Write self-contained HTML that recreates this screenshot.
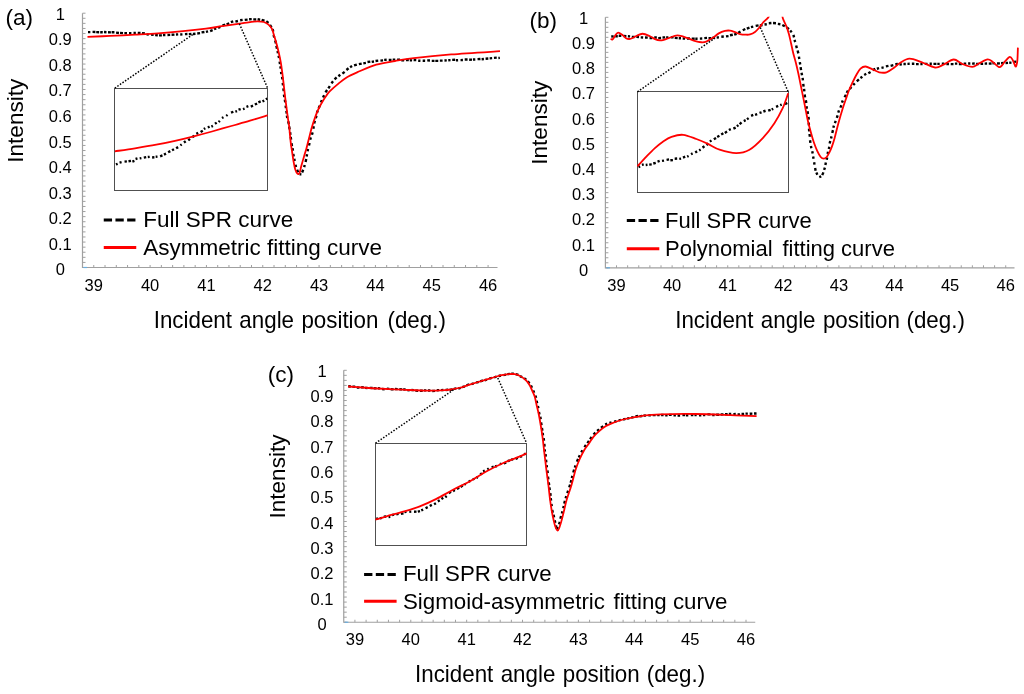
<!DOCTYPE html>
<html><head><meta charset="utf-8"><title>SPR fitting curves</title>
<style>
html,body{margin:0;padding:0;background:#fff;}
body{width:1024px;height:694px;overflow:hidden;}
svg{display:block;}
text{font-family:'Liberation Sans', Arial, sans-serif;fill:#000;}
.tk{font-size:16.5px;}
.lb{font-size:22.5px;}
.ti{font-size:22.6px;}
.xt{font-size:23px;word-spacing:1.2px;}
.lg{font-size:22.5px;}
.bk{fill:none;stroke:#000;stroke-width:2.4;}
.bki{fill:none;stroke:#000;stroke-width:2.4;}
.rd{fill:none;stroke:#ff0000;stroke-width:1.8;stroke-linejoin:round;}
.cn{fill:none;stroke:#000;stroke-width:1.5;stroke-dasharray:1.5 1.6;}
</style></head>
<body>
<svg width="1024" height="694" viewBox="0 0 1024 694">
<rect width="1024" height="694" fill="#fff"/>
<clipPath id="clipa"><rect x="82.50" y="12.70" width="421.00" height="254.80"/></clipPath>
<path d="M82.50,13.20h3 M82.50,18.29h3 M82.50,23.37h3 M82.50,28.46h3 M82.50,33.54h3 M82.50,38.63h3 M82.50,43.72h3 M82.50,48.80h3 M82.50,53.89h3 M82.50,58.97h3 M82.50,64.06h3 M82.50,69.15h3 M82.50,74.23h3 M82.50,79.32h3 M82.50,84.40h3 M82.50,89.49h3 M82.50,94.58h3 M82.50,99.66h3 M82.50,104.75h3 M82.50,109.83h3 M82.50,114.92h3 M82.50,120.01h3 M82.50,125.09h3 M82.50,130.18h3 M82.50,135.26h3 M82.50,140.35h3 M82.50,145.44h3 M82.50,150.52h3 M82.50,155.61h3 M82.50,160.69h3 M82.50,165.78h3 M82.50,170.87h3 M82.50,175.95h3 M82.50,181.04h3 M82.50,186.12h3 M82.50,191.21h3 M82.50,196.30h3 M82.50,201.38h3 M82.50,206.47h3 M82.50,211.55h3 M82.50,216.64h3 M82.50,221.73h3 M82.50,226.81h3 M82.50,231.90h3 M82.50,236.98h3 M82.50,242.07h3 M82.50,247.16h3 M82.50,252.24h3 M82.50,257.33h3 M82.50,262.41h3 M82.50,267.50h3 M93.77,267.50v-2.5 M105.03,267.50v-2.5 M116.30,267.50v-2.5 M127.56,267.50v-2.5 M138.83,267.50v-2.5 M150.10,267.50v-2.5 M161.36,267.50v-2.5 M172.63,267.50v-2.5 M183.89,267.50v-2.5 M195.16,267.50v-2.5 M206.43,267.50v-2.5 M217.69,267.50v-2.5 M228.96,267.50v-2.5 M240.22,267.50v-2.5 M251.49,267.50v-2.5 M262.76,267.50v-2.5 M274.02,267.50v-2.5 M285.29,267.50v-2.5 M296.55,267.50v-2.5 M307.82,267.50v-2.5 M319.09,267.50v-2.5 M330.35,267.50v-2.5 M341.62,267.50v-2.5 M352.88,267.50v-2.5 M364.15,267.50v-2.5 M375.42,267.50v-2.5 M386.68,267.50v-2.5 M397.95,267.50v-2.5 M409.21,267.50v-2.5 M420.48,267.50v-2.5 M431.75,267.50v-2.5 M443.01,267.50v-2.5 M454.28,267.50v-2.5 M465.54,267.50v-2.5 M476.81,267.50v-2.5 M488.08,267.50v-2.5" stroke="#a0a0a0" stroke-width="1" fill="none"/>
<path d="M82.50,13.20 V267.50 H497.50" stroke="#a0a0a0" stroke-width="1.2" fill="none"/>
<path d="M83.50,267.50 h3.6" stroke="#6aaee0" stroke-width="1.2"/>
<text x="60.30" y="275.40" class="tk" text-anchor="middle">0</text>
<text x="60.30" y="249.82" class="tk" text-anchor="middle">0.1</text>
<text x="60.30" y="224.24" class="tk" text-anchor="middle">0.2</text>
<text x="60.30" y="198.66" class="tk" text-anchor="middle">0.3</text>
<text x="60.30" y="173.08" class="tk" text-anchor="middle">0.4</text>
<text x="60.30" y="147.50" class="tk" text-anchor="middle">0.5</text>
<text x="60.30" y="121.92" class="tk" text-anchor="middle">0.6</text>
<text x="60.30" y="96.34" class="tk" text-anchor="middle">0.7</text>
<text x="60.30" y="70.76" class="tk" text-anchor="middle">0.8</text>
<text x="60.30" y="45.18" class="tk" text-anchor="middle">0.9</text>
<text x="60.30" y="19.60" class="tk" text-anchor="middle">1</text>
<text x="93.77" y="291.10" class="tk" text-anchor="middle">39</text>
<text x="150.10" y="291.10" class="tk" text-anchor="middle">40</text>
<text x="206.43" y="291.10" class="tk" text-anchor="middle">41</text>
<text x="262.76" y="291.10" class="tk" text-anchor="middle">42</text>
<text x="319.09" y="291.10" class="tk" text-anchor="middle">43</text>
<text x="375.42" y="291.10" class="tk" text-anchor="middle">44</text>
<text x="431.75" y="291.10" class="tk" text-anchor="middle">45</text>
<text x="488.08" y="291.10" class="tk" text-anchor="middle">46</text>
<text x="5.50" y="25.00" class="lb">(a)</text>
<text transform="translate(23.00,120.70) rotate(-90)" class="ti" text-anchor="middle">Intensity</text>
<text transform="translate(153.70,327.80) scale(0.972,1)" class="xt">Incident angle position <tspan dx="1.7">(deg.)</tspan></text>
<g clip-path="url(#clipa)">
<path d="M88.00,32.14L90.35,32.12M92.55,31.92L95.38,31.93M96.22,32.15L99.13,32.26M100.21,32.19L102.76,32.32M104.03,32.06L106.48,32.19M108.03,32.25L110.91,32.33M111.63,32.24L114.43,32.24M116.08,32.68L118.98,33.03M120.03,32.89L123.01,33.11M124.37,33.16L126.98,33.25M129.02,33.22L131.41,33.18M133.52,33.03L135.84,32.98M137.74,32.99L140.54,33.05M141.97,33.16L144.85,33.56M146.57,34.34L148.79,34.62M151.02,34.58L153.65,34.75M155.13,35.12L157.82,35.20M158.98,35.39L161.89,35.39M162.96,34.99L165.39,34.95M167.46,34.95L170.21,34.86M171.56,34.78L174.46,34.63M175.95,34.56L178.18,34.41M180.23,34.52L182.45,34.38M184.94,34.14L187.44,34.05M188.81,34.11L191.41,33.99M192.93,33.93L195.47,33.70M197.24,33.44L200.04,33.11M201.55,32.43L204.43,32.05M205.92,31.85L208.06,31.35M210.12,31.14L212.64,30.19M214.08,29.18L216.16,28.33M218.16,27.79L220.31,26.93M222.49,25.60L225.13,24.50M226.63,24.47L229.27,23.43M230.84,22.23L233.24,21.45M235.40,21.63L237.94,21.01M240.16,20.29L242.64,19.89M244.72,19.84L247.59,19.57M249.09,19.24L251.71,19.11M253.27,19.38L256.23,19.49M257.58,19.28L260.13,19.79M261.65,19.94L264.48,20.76M266.28,21.32L268.49,22.93M269.97,24.98L271.53,27.32M272.54,29.19L273.30,31.61M273.59,35.07L274.22,37.56M275.16,40.49L275.95,43.38M276.37,45.83L276.98,48.75M277.52,50.97L278.00,53.34M278.55,55.71L279.05,58.05M279.59,61.68L279.99,64.11M280.40,66.24L280.71,68.64M281.04,71.81L281.38,74.15M282.09,76.95L282.40,79.30M282.75,82.97L283.01,85.34M283.36,88.45L283.73,91.16M283.92,94.48L284.29,97.07M284.83,99.64L285.21,102.25M285.62,105.59L285.95,108.10M286.38,110.72L286.75,113.53M286.87,115.64L287.25,117.97M288.16,121.32L288.87,124.14M289.15,126.47L289.66,129.38M290.07,132.25L290.43,134.87M290.75,136.96L291.10,139.66M291.52,143.21L291.96,146.16M292.52,148.12L292.95,150.77M293.26,153.84L293.73,156.52M294.25,158.65L294.73,160.99M295.48,164.82L296.04,167.09M297.07,169.83L298.12,172.26M299.50,174.33L301.38,174.31M302.12,172.45L303.17,169.73M304.15,167.16L304.72,164.93M305.59,161.90L306.20,159.10M306.58,156.56L307.08,154.24M307.58,151.24L308.02,149.03M308.97,145.57L309.55,142.93M310.18,139.70L310.82,137.42M311.95,134.72L312.63,132.39M313.30,128.80L313.79,126.30M314.22,123.42L314.84,120.79M315.82,118.20L316.44,115.75M316.95,112.95L317.66,110.62M318.69,108.28L319.75,105.60M320.92,102.48L321.87,100.14M323.06,97.54L324.13,95.29M325.47,92.42L327.11,90.00M328.34,88.42L329.84,86.06M331.50,83.37L333.00,81.27M334.55,79.28L336.61,77.38M338.40,76.24L340.25,74.79M342.41,73.59L344.62,71.84M346.40,69.95L348.53,68.33M350.08,67.26L352.06,66.05M354.05,65.43L356.82,64.58M358.88,64.19L361.68,63.57M363.31,63.36L365.90,62.94M367.49,62.05L370.31,61.58M371.69,61.89L374.00,61.52M375.52,61.03L378.25,60.66M380.43,60.60L383.06,60.38M384.20,59.87L386.66,59.75M388.72,59.96L391.51,59.91M392.70,59.63L395.24,59.62M397.09,59.59L400.07,59.61M401.33,60.21L404.15,60.29M406.00,60.00L408.81,60.10M409.83,60.29L412.09,60.36M413.60,59.94L416.26,60.01M418.20,60.76L420.42,60.82M422.67,60.73L425.15,60.79M427.23,60.39L429.97,60.43M431.74,60.87L434.48,60.89M435.32,60.89L438.27,60.90M439.86,60.65L442.60,60.61M444.45,60.46L446.77,60.37M448.27,60.30L450.54,60.17M452.20,59.88L455.13,59.71M455.89,60.31L458.10,60.19M460.53,60.08L462.93,60.02M464.71,59.57L467.59,59.52M469.17,59.68L472.03,59.61M472.97,59.57L475.31,59.46M477.54,59.16L480.43,58.97M481.62,59.21L483.92,59.04M485.58,58.76L488.31,58.54M489.66,58.34L492.12,58.15M493.96,57.89L496.74,57.65M498.37,58.01L499.85,57.88" class="bk"/>
<path d="M87.50,36.90 C91.25,36.73 102.08,36.27 110.00,35.90 C117.92,35.53 127.00,35.12 135.00,34.70 C143.00,34.28 150.00,33.98 158.00,33.40 C166.00,32.82 175.00,32.00 183.00,31.20 C191.00,30.40 199.50,29.43 206.00,28.60 C212.50,27.77 216.65,27.00 222.00,26.20 C227.35,25.40 233.43,24.48 238.10,23.80 C242.77,23.12 246.80,22.50 250.00,22.10 C253.20,21.70 255.02,21.42 257.30,21.40 C259.58,21.38 261.83,21.47 263.70,22.00 C265.57,22.53 267.12,23.45 268.50,24.60 C269.88,25.75 271.05,27.00 272.00,28.90 C272.95,30.80 273.40,33.37 274.20,36.00 C275.00,38.63 276.02,41.82 276.80,44.70 C277.58,47.58 278.25,50.42 278.90,53.30 C279.55,56.18 280.18,59.12 280.70,62.00 C281.22,64.88 281.60,67.72 282.00,70.60 C282.40,73.48 282.75,76.40 283.10,79.30 C283.45,82.20 283.78,85.22 284.10,88.00 C284.42,90.78 284.67,93.25 285.00,96.00 C285.33,98.75 285.62,100.83 286.10,104.50 C286.58,108.17 287.38,114.32 287.90,118.00 C288.42,121.68 288.85,123.72 289.20,126.60 C289.55,129.48 289.72,132.42 290.00,135.30 C290.28,138.18 290.53,141.03 290.90,143.90 C291.27,146.77 291.77,149.62 292.20,152.50 C292.63,155.38 293.00,158.40 293.50,161.20 C294.00,164.00 294.52,167.18 295.20,169.30 C295.88,171.42 296.87,173.35 297.60,173.90 C298.33,174.45 298.98,173.92 299.60,172.60 C300.22,171.28 300.58,168.62 301.30,166.00 C302.02,163.38 303.03,159.87 303.90,156.90 C304.77,153.93 305.70,151.10 306.50,148.20 C307.30,145.30 307.82,142.95 308.70,139.50 C309.58,136.05 310.72,131.23 311.80,127.50 C312.88,123.77 314.05,120.27 315.20,117.10 C316.35,113.93 317.40,111.23 318.70,108.50 C320.00,105.77 321.70,102.87 323.00,100.70 C324.30,98.53 325.35,97.08 326.50,95.50 C327.65,93.92 327.86,93.22 329.90,91.20 C331.94,89.18 335.90,85.73 338.75,83.40 C341.60,81.07 343.88,79.07 347.00,77.20 C350.12,75.33 352.62,74.28 357.50,72.20 C362.38,70.12 370.00,66.57 376.25,64.70 C382.50,62.83 388.75,62.10 395.00,61.00 C401.25,59.90 404.38,59.20 413.75,58.10 C423.12,57.00 436.88,55.55 451.25,54.40 C465.62,53.25 491.88,51.73 500.00,51.20" class="rd"/>
</g>
<rect x="114.80" y="88.10" width="152.80" height="102.50" fill="white" stroke="#505050" stroke-width="1" shape-rendering="crispEdges"/>
<path d="M115.91,164.41L117.65,163.80M119.56,162.64L121.58,162.12M124.53,161.66L126.88,161.42M128.51,161.28L130.99,160.92M132.36,161.52L134.43,160.80M135.55,159.00L137.44,158.45M139.67,158.36L141.40,158.06M143.80,157.58L146.21,157.12M147.80,157.01L149.68,156.82M152.10,157.44L154.42,157.25M155.68,156.74L157.50,156.59M160.12,156.39L162.46,155.49M163.95,154.65L166.02,153.69M168.12,152.20L170.32,151.06M172.03,150.26L173.97,149.19M176.13,148.30L178.15,147.12M180.34,145.30L181.70,144.43M183.92,142.58L185.71,141.26M188.27,140.30L189.99,138.83M192.33,137.12L194.43,135.83M196.37,133.84L198.15,132.91M200.58,131.99L202.80,130.68M203.82,129.09L205.31,128.20M207.78,127.48L209.59,126.62M211.38,126.63L212.91,125.91M214.94,123.84L216.68,122.61M218.65,122.01L219.85,120.81M221.93,118.02L223.48,117.21M226.20,115.87L227.55,114.89M231.02,112.68L233.35,111.75M235.35,111.67L237.04,111.13M238.51,109.72L240.67,109.03M242.95,109.14L244.60,108.58M246.44,106.80L248.33,106.15M250.76,106.61L253.03,105.74M254.82,104.51L257.10,103.53M258.37,102.31L260.67,101.35M262.45,101.35L264.26,100.55M265.83,99.20L267.22,98.51" class="bki"/>
<path d="M114.90,151.30 C118.25,150.80 128.10,149.40 135.00,148.30 C141.90,147.20 149.63,145.95 156.30,144.70 C162.97,143.45 168.75,142.20 175.00,140.80 C181.25,139.40 187.63,137.85 193.80,136.30 C199.97,134.75 205.75,133.22 212.00,131.50 C218.25,129.78 224.97,127.80 231.30,126.00 C237.63,124.20 243.95,122.48 250.00,120.70 C256.05,118.92 264.67,116.20 267.60,115.30" class="rd"/>
<path d="M114.80,88.10 L193.30,34.20" class="cn"/>
<path d="M239.40,23.80 L267.60,88.10" class="cn"/>
<path d="M103.75,220.00 h32.5" stroke="#000" stroke-width="3" stroke-dasharray="8.3 3.4"/>
<path d="M103.75,247.50 h32.5" stroke="#ff0000" stroke-width="3"/>
<text x="143.30" y="226.90" class="lg" style="font-size:22.5px">Full SPR curve</text>
<text x="143.30" y="255.00" class="lg" style="font-size:22.5px">Asymmetric fitting curve</text>
<clipPath id="clipb"><rect x="605.40" y="16.80" width="415.10" height="251.00"/></clipPath>
<path d="M605.40,17.30h3 M605.40,22.31h3 M605.40,27.32h3 M605.40,32.33h3 M605.40,37.34h3 M605.40,42.35h3 M605.40,47.36h3 M605.40,52.37h3 M605.40,57.38h3 M605.40,62.39h3 M605.40,67.40h3 M605.40,72.41h3 M605.40,77.42h3 M605.40,82.43h3 M605.40,87.44h3 M605.40,92.45h3 M605.40,97.46h3 M605.40,102.47h3 M605.40,107.48h3 M605.40,112.49h3 M605.40,117.50h3 M605.40,122.51h3 M605.40,127.52h3 M605.40,132.53h3 M605.40,137.54h3 M605.40,142.55h3 M605.40,147.56h3 M605.40,152.57h3 M605.40,157.58h3 M605.40,162.59h3 M605.40,167.60h3 M605.40,172.61h3 M605.40,177.62h3 M605.40,182.63h3 M605.40,187.64h3 M605.40,192.65h3 M605.40,197.66h3 M605.40,202.67h3 M605.40,207.68h3 M605.40,212.69h3 M605.40,217.70h3 M605.40,222.71h3 M605.40,227.72h3 M605.40,232.73h3 M605.40,237.74h3 M605.40,242.75h3 M605.40,247.76h3 M605.40,252.77h3 M605.40,257.78h3 M605.40,262.79h3 M605.40,267.80h3 M616.52,267.80v-2.5 M627.64,267.80v-2.5 M638.76,267.80v-2.5 M649.88,267.80v-2.5 M661.00,267.80v-2.5 M672.12,267.80v-2.5 M683.24,267.80v-2.5 M694.36,267.80v-2.5 M705.48,267.80v-2.5 M716.60,267.80v-2.5 M727.72,267.80v-2.5 M738.84,267.80v-2.5 M749.96,267.80v-2.5 M761.08,267.80v-2.5 M772.20,267.80v-2.5 M783.32,267.80v-2.5 M794.44,267.80v-2.5 M805.56,267.80v-2.5 M816.68,267.80v-2.5 M827.80,267.80v-2.5 M838.92,267.80v-2.5 M850.04,267.80v-2.5 M861.16,267.80v-2.5 M872.28,267.80v-2.5 M883.40,267.80v-2.5 M894.52,267.80v-2.5 M905.64,267.80v-2.5 M916.76,267.80v-2.5 M927.88,267.80v-2.5 M939.00,267.80v-2.5 M950.12,267.80v-2.5 M961.24,267.80v-2.5 M972.36,267.80v-2.5 M983.48,267.80v-2.5 M994.60,267.80v-2.5 M1005.72,267.80v-2.5" stroke="#a0a0a0" stroke-width="1" fill="none"/>
<path d="M605.40,17.30 V267.80 H1014.50" stroke="#a0a0a0" stroke-width="1.2" fill="none"/>
<path d="M606.40,267.80 h3.6" stroke="#6aaee0" stroke-width="1.2"/>
<text x="583.50" y="275.70" class="tk" text-anchor="middle">0</text>
<text x="583.50" y="250.50" class="tk" text-anchor="middle">0.1</text>
<text x="583.50" y="225.30" class="tk" text-anchor="middle">0.2</text>
<text x="583.50" y="200.10" class="tk" text-anchor="middle">0.3</text>
<text x="583.50" y="174.90" class="tk" text-anchor="middle">0.4</text>
<text x="583.50" y="149.70" class="tk" text-anchor="middle">0.5</text>
<text x="583.50" y="124.50" class="tk" text-anchor="middle">0.6</text>
<text x="583.50" y="99.30" class="tk" text-anchor="middle">0.7</text>
<text x="583.50" y="74.10" class="tk" text-anchor="middle">0.8</text>
<text x="583.50" y="48.90" class="tk" text-anchor="middle">0.9</text>
<text x="583.50" y="23.70" class="tk" text-anchor="middle">1</text>
<text x="616.52" y="291.40" class="tk" text-anchor="middle">39</text>
<text x="672.12" y="291.40" class="tk" text-anchor="middle">40</text>
<text x="727.72" y="291.40" class="tk" text-anchor="middle">41</text>
<text x="783.32" y="291.40" class="tk" text-anchor="middle">42</text>
<text x="838.92" y="291.40" class="tk" text-anchor="middle">43</text>
<text x="894.52" y="291.40" class="tk" text-anchor="middle">44</text>
<text x="950.12" y="291.40" class="tk" text-anchor="middle">45</text>
<text x="1005.72" y="291.40" class="tk" text-anchor="middle">46</text>
<text x="529.50" y="28.20" class="lb">(b)</text>
<text transform="translate(546.80,122.70) rotate(-90)" class="ti" text-anchor="middle">Intensity</text>
<text transform="translate(675.20,328.00) scale(0.972,1)" class="xt">Incident angle position <tspan dx="-0.9">(deg.)</tspan></text>
<g clip-path="url(#clipb)">
<path d="M611.24,36.50L613.72,36.37M615.19,36.23L617.77,36.18M618.72,35.76L621.32,35.82M623.63,36.02L626.39,36.14M627.91,36.24L630.11,36.36M631.79,36.85L634.58,37.07M636.37,36.85L638.99,37.09M640.73,37.34L643.14,37.50M644.99,37.50L647.75,37.59M649.55,37.96L652.37,38.00M654.22,37.49L656.82,37.49M658.24,38.08L661.09,38.01M662.52,37.49L665.14,37.42M666.14,37.53L668.39,37.53M670.84,37.20L673.59,37.33M674.70,37.91L677.67,38.08M678.76,38.18L680.99,38.28M682.69,38.45L685.05,38.54M686.97,38.45L689.88,38.54M691.71,38.74L694.69,38.82M695.31,38.77L697.58,38.82M699.86,38.59L702.24,38.50M704.30,38.14L707.02,37.89M708.53,38.32L711.24,38.22M712.20,37.99L715.11,37.60M716.66,37.58L718.88,37.27M721.31,36.71L723.79,36.47M725.99,36.40L728.55,36.09M730.00,35.27L732.79,34.70M734.16,34.69L736.61,33.79M738.19,32.75L740.49,31.60M742.76,30.28L745.29,28.97M746.83,28.64L749.48,27.62M750.98,27.19L753.24,26.65M755.67,25.93L758.57,25.34M759.93,25.54L762.50,25.01M764.49,24.56L766.79,24.20M768.80,23.25L771.41,23.02M773.03,23.07L775.98,23.22M777.86,23.83L780.40,24.20M782.32,24.99L784.83,26.30M786.75,27.28L788.91,29.21M790.18,30.49L791.73,32.21M793.43,34.91L794.04,37.34M794.50,39.86L795.22,42.00M796.16,45.51L796.82,48.12M797.62,50.47L798.35,53.33M798.90,56.66L799.29,58.98M799.82,62.07L800.20,64.49M800.63,67.18L801.06,70.12M801.52,72.80L802.02,75.33M802.60,77.81L802.97,80.41M803.25,83.93L803.59,86.64M804.06,88.85L804.37,91.34M804.64,94.50L805.06,97.35M805.82,100.32L806.31,103.08M806.48,106.27L806.85,108.70M807.51,111.31L807.95,113.96M808.49,116.88L808.78,119.60M808.74,122.60L808.92,125.34M809.03,128.67L809.19,131.35M809.58,134.01L809.80,136.76M810.03,140.21L810.41,142.87M810.93,145.96L811.34,148.16M812.23,151.24L812.71,153.54M813.13,156.58L813.58,158.85M814.13,162.28L814.48,164.65M815.10,168.05L815.63,170.67M816.37,172.59L817.36,174.78M819.25,177.14L821.25,176.42M822.26,175.11L823.42,172.36M824.13,169.92L824.89,167.61M825.37,165.02L825.88,162.45M826.71,159.74L827.15,157.53M827.62,153.89L828.04,151.70M828.83,148.99L829.28,146.67M829.66,143.53L830.24,141.04M831.04,138.53L831.56,136.35M832.28,132.97L832.95,130.11M833.33,127.79L833.90,125.61M834.89,123.11L835.70,120.94M836.83,117.83L837.63,115.38M838.25,112.59L838.99,110.41M840.37,107.61L841.40,105.22M842.03,102.63L842.80,100.48M844.61,97.22L845.92,94.73M846.67,92.80L848.01,90.58M849.74,88.94L851.42,86.97M853.22,85.01L854.81,83.35M856.81,81.33L858.91,79.36M860.42,78.02L862.34,76.65M864.21,74.95L866.21,73.82M868.34,73.33L870.57,72.02M872.72,70.09L875.28,68.85M876.86,68.73L879.09,68.15M881.46,67.86L883.65,67.38M885.87,66.40L888.47,65.89M890.61,65.89L893.34,65.18M895.32,64.29L897.90,63.98M899.53,64.48L901.86,64.41M903.46,63.96L905.79,63.94M907.45,63.83L909.68,63.80M911.85,63.79L914.34,63.76M916.00,64.11L918.68,64.09M920.36,64.10L922.59,64.08M924.82,63.86L927.53,63.84M929.63,63.79L931.83,63.78M933.45,63.84L936.41,63.83M937.32,63.88L939.68,63.88M941.81,63.77L944.29,63.78M946.36,64.09L948.95,64.10M950.73,64.10L953.50,64.11M954.92,63.63L957.28,63.63M958.85,64.04L961.84,64.04M963.71,63.66L966.21,63.65M968.12,63.46L970.33,63.43M972.13,63.61L974.71,63.57M976.10,64.00L978.71,63.94M980.49,63.84L983.12,63.77M984.66,63.63L987.09,63.57M988.76,63.63L991.56,63.55M992.42,63.19L994.90,63.12M997.01,63.50L999.95,63.40M1001.08,63.11L1003.69,63.00M1005.53,63.05L1008.04,62.90M1009.24,62.80L1011.50,62.62M1013.59,61.90L1016.33,61.63" class="bk"/>
<path d="M610.60,38.80 C610.92,38.92 611.73,40.03 612.50,39.50 C613.27,38.97 614.27,36.75 615.20,35.60 C616.13,34.45 616.88,32.70 618.10,32.60 C619.32,32.50 621.18,34.07 622.50,35.00 C623.82,35.93 624.85,37.53 626.00,38.20 C627.15,38.87 628.23,39.07 629.40,39.00 C630.57,38.93 631.86,38.30 633.00,37.80 C634.14,37.30 634.67,36.67 636.25,36.00 C637.83,35.33 640.21,33.71 642.50,33.75 C644.79,33.79 647.92,35.34 650.00,36.25 C652.08,37.16 653.33,38.51 655.00,39.20 C656.67,39.89 658.42,40.33 660.00,40.40 C661.58,40.47 663.04,39.98 664.50,39.60 C665.96,39.22 666.58,38.80 668.75,38.10 C670.92,37.40 674.38,35.40 677.50,35.40 C680.62,35.40 684.67,37.20 687.50,38.10 C690.33,39.00 692.21,40.11 694.50,40.80 C696.79,41.49 699.29,42.12 701.25,42.25 C703.21,42.38 704.38,42.29 706.25,41.60 C708.12,40.91 710.42,39.47 712.50,38.10 C714.58,36.73 716.67,34.60 718.75,33.40 C720.83,32.20 723.12,31.37 725.00,30.90 C726.88,30.43 728.33,30.38 730.00,30.60 C731.67,30.82 733.33,31.62 735.00,32.20 C736.67,32.78 738.23,33.68 740.00,34.10 C741.77,34.52 743.93,34.65 745.60,34.70 C747.27,34.75 748.43,34.87 750.00,34.40 C751.57,33.93 753.43,33.05 755.00,31.90 C756.57,30.75 758.05,29.07 759.40,27.50 C760.75,25.93 761.65,24.15 763.10,22.50 C764.55,20.85 766.62,19.52 768.10,17.60 C769.58,15.68 770.52,12.77 772.00,11.00 C773.48,9.23 775.42,6.83 777.00,7.00 C778.58,7.17 780.52,10.08 781.50,12.00 C782.48,13.92 782.10,16.13 782.90,18.50 C783.70,20.87 785.30,23.62 786.30,26.20 C787.30,28.78 788.10,31.12 788.90,34.00 C789.70,36.88 790.38,40.33 791.10,43.50 C791.82,46.67 792.42,49.83 793.20,53.00 C793.98,56.17 794.93,59.05 795.80,62.50 C796.67,65.95 797.65,70.28 798.40,73.70 C799.15,77.12 799.55,79.30 800.30,83.00 C801.05,86.70 802.03,91.58 802.90,95.90 C803.77,100.22 804.63,104.58 805.50,108.90 C806.37,113.22 807.15,117.68 808.10,121.80 C809.05,125.92 810.25,130.18 811.20,133.60 C812.15,137.02 812.80,139.42 813.80,142.30 C814.80,145.18 816.05,148.45 817.20,150.90 C818.35,153.35 819.62,155.70 820.70,157.00 C821.78,158.30 822.70,158.70 823.70,158.70 C824.70,158.70 825.77,158.02 826.70,157.00 C827.63,155.98 828.43,154.33 829.30,152.60 C830.17,150.87 831.03,148.95 831.90,146.60 C832.77,144.25 833.42,142.40 834.50,138.50 C835.58,134.60 837.03,128.20 838.40,123.20 C839.77,118.20 841.42,112.62 842.70,108.50 C843.98,104.38 845.03,101.58 846.10,98.50 C847.17,95.42 848.13,92.45 849.10,90.00 C850.07,87.55 850.72,86.27 851.90,83.80 C853.08,81.33 854.77,77.72 856.20,75.20 C857.63,72.68 858.95,70.15 860.50,68.70 C862.05,67.25 863.58,66.43 865.50,66.50 C867.42,66.57 869.72,68.13 872.00,69.10 C874.28,70.07 876.78,71.77 879.20,72.30 C881.62,72.83 884.08,73.02 886.50,72.30 C888.92,71.58 891.45,69.57 893.70,68.00 C895.95,66.43 897.37,64.47 900.00,62.90 C902.63,61.33 905.93,58.73 909.50,58.60 C913.07,58.47 917.15,60.62 921.40,62.10 C925.65,63.58 931.32,67.08 935.00,67.50 C938.68,67.92 940.38,65.93 943.50,64.60 C946.62,63.27 950.60,59.63 953.70,59.50 C956.80,59.37 959.00,62.58 962.10,63.80 C965.20,65.02 969.47,66.87 972.30,66.80 C975.13,66.73 976.55,64.63 979.10,63.40 C981.65,62.17 985.27,59.60 987.60,59.40 C989.93,59.20 991.08,60.90 993.10,62.20 C995.12,63.50 997.68,67.37 999.70,67.20 C1001.72,67.03 1003.52,62.92 1005.20,61.20 C1006.88,59.48 1008.53,57.07 1009.80,56.90 C1011.07,56.73 1011.88,58.65 1012.80,60.20 C1013.72,61.75 1014.70,65.32 1015.30,66.20 C1015.90,67.08 1016.05,66.50 1016.40,65.50 C1016.75,64.50 1017.15,63.18 1017.40,60.20 C1017.65,57.22 1017.82,49.70 1017.90,47.60" class="rd"/>
</g>
<rect x="637.50" y="91.80" width="150.70" height="100.60" fill="white" stroke="#505050" stroke-width="1" shape-rendering="crispEdges"/>
<path d="M638.54,167.03L640.17,166.45M641.90,164.87L643.71,164.38M645.71,164.96L647.50,164.77M649.20,164.67L651.71,164.42M653.27,163.51L655.75,162.78M657.53,161.68L659.65,160.94M662.00,160.91L664.02,160.57M666.57,159.86L669.07,159.42M670.36,160.31L672.93,160.08M674.69,158.72L677.17,158.55M679.27,158.88L681.08,158.58M682.98,157.60L685.17,156.67M687.15,156.67L688.62,155.98M691.02,154.19L692.61,153.36M695.18,152.45L697.11,151.36M699.18,150.42L700.61,149.56M702.50,147.62L704.46,146.36M706.49,144.95L708.32,143.51M709.91,141.67L711.43,140.39M713.84,139.31L716.05,137.99M717.18,136.94L719.40,135.74M721.20,134.45L723.36,133.22M724.81,132.92L727.04,131.59M728.87,130.03L730.77,129.14M733.37,128.70L735.67,127.57M736.87,126.26L738.40,125.10M739.68,124.26L741.49,122.46M743.78,121.05L745.65,120.17M746.96,119.32L748.65,118.12M751.10,115.82L753.22,114.90M755.08,114.89L757.19,114.19M759.50,112.94L761.55,112.29M763.36,111.50L765.56,110.75M768.19,110.67L770.63,109.82M771.64,109.45L773.28,108.82M776.05,106.83L778.20,105.90M780.18,105.22L781.71,104.58M784.98,104.11L787.29,102.99" class="bki"/>
<path d="M637.50,166.30 C639.02,164.65 643.70,159.43 646.60,156.40 C649.50,153.37 652.13,150.60 654.90,148.10 C657.67,145.60 660.43,143.28 663.20,141.40 C665.97,139.52 668.18,137.90 671.50,136.80 C674.82,135.70 678.95,134.43 683.10,134.80 C687.25,135.17 692.25,137.48 696.40,139.00 C700.55,140.52 704.13,142.12 708.00,143.90 C711.87,145.68 714.90,148.17 719.60,149.70 C724.30,151.23 731.22,153.10 736.20,153.10 C741.18,153.10 745.07,152.20 749.50,149.70 C753.93,147.20 758.65,142.52 762.80,138.10 C766.95,133.68 771.08,128.18 774.40,123.20 C777.72,118.22 780.40,113.18 782.70,108.20 C785.00,103.22 787.28,95.78 788.20,93.30" class="rd"/>
<path d="M637.50,91.80 L714.70,38.20" class="cn"/>
<path d="M760.30,27.50 L788.20,91.80" class="cn"/>
<path d="M626.80,220.50 h32.5" stroke="#000" stroke-width="3" stroke-dasharray="8.3 3.4"/>
<path d="M626.80,248.70 h32.5" stroke="#ff0000" stroke-width="3"/>
<text x="665.00" y="228.10" class="lg" style="font-size:22.0px">Full SPR curve</text>
<text x="665.00" y="255.50" class="lg" style="font-size:22.0px">Polynomial <tspan dx="3.7">fitting curve</tspan></text>
<clipPath id="clipc"><rect x="343.75" y="369.80" width="417.50" height="252.45"/></clipPath>
<path d="M343.75,370.30h3 M343.75,375.34h3 M343.75,380.38h3 M343.75,385.42h3 M343.75,390.46h3 M343.75,395.50h3 M343.75,400.53h3 M343.75,405.57h3 M343.75,410.61h3 M343.75,415.65h3 M343.75,420.69h3 M343.75,425.73h3 M343.75,430.77h3 M343.75,435.81h3 M343.75,440.85h3 M343.75,445.88h3 M343.75,450.92h3 M343.75,455.96h3 M343.75,461.00h3 M343.75,466.04h3 M343.75,471.08h3 M343.75,476.12h3 M343.75,481.16h3 M343.75,486.20h3 M343.75,491.24h3 M343.75,496.27h3 M343.75,501.31h3 M343.75,506.35h3 M343.75,511.39h3 M343.75,516.43h3 M343.75,521.47h3 M343.75,526.51h3 M343.75,531.55h3 M343.75,536.59h3 M343.75,541.63h3 M343.75,546.66h3 M343.75,551.70h3 M343.75,556.74h3 M343.75,561.78h3 M343.75,566.82h3 M343.75,571.86h3 M343.75,576.90h3 M343.75,581.94h3 M343.75,586.98h3 M343.75,592.02h3 M343.75,597.06h3 M343.75,602.09h3 M343.75,607.13h3 M343.75,612.17h3 M343.75,617.21h3 M343.75,622.25h3 M354.92,622.25v-2.5 M366.10,622.25v-2.5 M377.27,622.25v-2.5 M388.45,622.25v-2.5 M399.62,622.25v-2.5 M410.79,622.25v-2.5 M421.97,622.25v-2.5 M433.14,622.25v-2.5 M444.32,622.25v-2.5 M455.49,622.25v-2.5 M466.66,622.25v-2.5 M477.84,622.25v-2.5 M489.01,622.25v-2.5 M500.19,622.25v-2.5 M511.36,622.25v-2.5 M522.53,622.25v-2.5 M533.71,622.25v-2.5 M544.88,622.25v-2.5 M556.06,622.25v-2.5 M567.23,622.25v-2.5 M578.40,622.25v-2.5 M589.58,622.25v-2.5 M600.75,622.25v-2.5 M611.93,622.25v-2.5 M623.10,622.25v-2.5 M634.27,622.25v-2.5 M645.45,622.25v-2.5 M656.62,622.25v-2.5 M667.80,622.25v-2.5 M678.97,622.25v-2.5 M690.14,622.25v-2.5 M701.32,622.25v-2.5 M712.49,622.25v-2.5 M723.67,622.25v-2.5 M734.84,622.25v-2.5 M746.01,622.25v-2.5" stroke="#a0a0a0" stroke-width="1" fill="none"/>
<path d="M343.75,370.30 V622.25 H755.25" stroke="#a0a0a0" stroke-width="1.2" fill="none"/>
<path d="M344.75,622.25 h3.6" stroke="#6aaee0" stroke-width="1.2"/>
<text x="322.00" y="630.15" class="tk" text-anchor="middle">0</text>
<text x="322.00" y="604.80" class="tk" text-anchor="middle">0.1</text>
<text x="322.00" y="579.46" class="tk" text-anchor="middle">0.2</text>
<text x="322.00" y="554.11" class="tk" text-anchor="middle">0.3</text>
<text x="322.00" y="528.77" class="tk" text-anchor="middle">0.4</text>
<text x="322.00" y="503.42" class="tk" text-anchor="middle">0.5</text>
<text x="322.00" y="478.08" class="tk" text-anchor="middle">0.6</text>
<text x="322.00" y="452.73" class="tk" text-anchor="middle">0.7</text>
<text x="322.00" y="427.39" class="tk" text-anchor="middle">0.8</text>
<text x="322.00" y="402.04" class="tk" text-anchor="middle">0.9</text>
<text x="322.00" y="376.70" class="tk" text-anchor="middle">1</text>
<text x="354.92" y="645.15" class="tk" text-anchor="middle">39</text>
<text x="410.79" y="645.15" class="tk" text-anchor="middle">40</text>
<text x="466.66" y="645.15" class="tk" text-anchor="middle">41</text>
<text x="522.53" y="645.15" class="tk" text-anchor="middle">42</text>
<text x="578.40" y="645.15" class="tk" text-anchor="middle">43</text>
<text x="634.27" y="645.15" class="tk" text-anchor="middle">44</text>
<text x="690.14" y="645.15" class="tk" text-anchor="middle">45</text>
<text x="746.01" y="645.15" class="tk" text-anchor="middle">46</text>
<text x="267.80" y="381.50" class="lb">(c)</text>
<text transform="translate(285.10,476.50) rotate(-90)" class="ti" text-anchor="middle">Intensity</text>
<text transform="translate(415.00,681.90) scale(0.972,1)" class="xt">Incident angle position <tspan dx="-0.4">(deg.)</tspan></text>
<g clip-path="url(#clipc)">
<path d="M348.27,386.28L350.79,386.47M352.37,386.62L355.17,386.82M356.82,387.49L359.44,387.67M361.15,387.20L363.83,387.39M364.97,387.86L367.48,388.04M369.67,387.89L372.55,388.07M373.71,388.26L376.53,388.42M377.96,388.28L380.17,388.39M382.06,389.06L384.62,389.19M386.83,388.74L389.31,388.86M390.76,389.23L393.59,389.37M394.99,389.00L397.71,389.13M399.33,389.23L402.19,389.35M403.13,389.34L405.58,389.45M407.25,390.16L409.61,390.27M411.49,390.04L413.89,390.15M415.31,390.64L418.07,390.76M420.04,390.69L422.72,390.79M423.98,390.34L426.26,390.39M428.02,390.46L430.34,390.46M432.24,390.95L435.08,390.87M436.78,390.19L439.13,390.08M441.11,390.09L443.35,389.96M445.62,389.97L448.13,389.78M449.63,390.04L452.49,389.54M453.84,388.82L456.36,388.42M458.31,388.49L460.68,387.88M462.20,387.19L464.90,386.27M466.46,385.28L469.12,384.41M471.41,384.09L473.72,383.39M476.11,382.70L478.82,381.88M480.15,381.35L482.93,380.52M484.58,380.24L486.91,379.54M489.27,378.61L491.89,377.82M494.10,377.38L496.47,376.69M498.66,376.04L500.95,375.50M503.43,375.13L506.11,374.65M507.34,374.13L510.22,373.91M511.20,373.61L513.83,373.68M515.72,374.07L518.36,374.98M519.95,376.15L522.10,377.14M524.11,378.15L526.22,379.71M527.81,381.21L529.49,383.46M530.92,385.58L532.02,387.77M533.16,390.39L534.18,392.67M535.39,395.59L536.11,397.92M536.62,400.69L537.14,403.15M537.88,405.97L538.42,408.21M538.94,411.92L539.48,414.39M540.29,416.79L540.72,419.17M541.07,422.42L541.55,425.24M541.92,427.86L542.39,430.73M542.67,432.93L543.01,435.30M543.68,438.16L544.00,440.74M544.29,443.97L544.58,446.58M544.68,449.36L544.93,451.68M545.53,454.17L545.82,456.62M546.00,459.74L546.30,462.27M546.63,465.09L546.91,467.37M547.42,470.49L547.76,473.11M547.99,476.65L548.36,479.35M548.78,482.30L549.14,485.06M549.42,487.29L549.74,490.08M550.31,493.10L550.61,495.86M550.77,498.26L551.08,500.71M551.41,503.96L551.77,506.29M552.25,509.87L552.78,512.79M553.56,514.68L554.12,517.37M554.69,520.41L555.33,522.88M556.02,525.42L556.42,528.23M556.66,529.27L557.79,527.05M559.11,524.29L559.80,521.95M560.37,518.79L561.08,516.03M561.90,513.56L562.43,511.37M563.25,508.34L563.79,505.93M564.24,503.59L564.94,500.83M565.63,498.32L566.31,496.21M567.30,493.23L568.14,490.76M569.23,487.47L570.13,484.61M570.70,482.69L571.38,480.12M571.83,478.15L572.40,475.85M573.30,472.46L574.12,469.59M574.83,467.57L575.56,465.49M576.93,461.63L578.09,458.88M578.83,457.44L579.81,455.36M581.27,452.30L582.43,450.22M584.45,447.14L585.94,445.07M587.39,443.17L588.96,440.87M590.08,439.29L591.65,437.06M593.54,434.49L595.38,432.61M597.16,431.02L599.09,429.37M600.95,427.80L603.26,426.20M605.23,424.66L607.17,423.59M609.42,422.96L611.56,422.29M614.18,421.77L616.50,421.14M618.68,420.38L620.90,419.83M623.19,419.46L625.54,418.93M627.08,418.70L629.41,418.20M631.14,417.56L633.57,417.07M635.43,416.47L638.22,416.00M639.47,416.39L642.15,416.05M643.57,415.67L645.85,415.48M648.32,415.36L650.82,415.31M652.68,415.16L655.60,415.15M657.20,415.13L659.62,415.11M661.09,414.97L663.55,414.94M665.19,415.20L667.58,415.18M668.89,414.87L671.69,414.86M673.47,415.40L675.90,415.38M677.58,415.50L680.12,415.49M682.41,415.16L685.09,415.14M685.89,415.32L688.32,415.30M690.81,415.05L693.37,415.02M694.46,415.06L696.67,415.03M698.96,415.26L701.31,415.22M703.03,415.12L705.24,415.08M707.44,414.42L710.43,414.36M712.16,414.99L714.59,414.94M716.22,414.80L719.22,414.73M720.71,414.44L723.51,414.38M725.04,414.24L727.66,414.18M728.82,414.05L731.23,413.98M733.35,414.14L735.75,414.07M737.58,414.49L739.96,414.41M741.55,413.96L744.11,413.87M745.51,413.67L747.83,413.59M749.69,413.74L752.37,413.63M754.04,413.55L756.54,413.46" class="bk"/>
<path d="M348.10,386.50 C350.42,386.67 357.10,387.17 362.00,387.50 C366.90,387.83 370.75,388.13 377.50,388.50 C384.25,388.87 394.07,389.33 402.50,389.70 C410.93,390.07 420.81,390.65 428.10,390.70 C435.39,390.75 442.10,390.27 446.25,390.00 C450.40,389.73 450.71,389.48 453.00,389.10 C455.29,388.73 457.23,388.50 460.00,387.75 C462.77,387.00 465.23,385.96 469.60,384.60 C473.97,383.24 481.55,380.99 486.20,379.60 C490.85,378.21 494.62,377.03 497.50,376.25 C500.38,375.47 501.58,375.26 503.50,374.90 C505.42,374.54 507.10,374.22 509.00,374.10 C510.90,373.98 513.15,373.92 514.90,374.20 C516.65,374.48 518.03,375.10 519.50,375.80 C520.97,376.50 522.38,377.40 523.70,378.40 C525.02,379.40 526.33,380.53 527.40,381.80 C528.47,383.07 529.27,384.45 530.10,386.00 C530.93,387.55 531.63,389.33 532.40,391.10 C533.17,392.87 534.00,394.28 534.70,396.60 C535.40,398.92 535.90,401.93 536.60,405.00 C537.30,408.07 538.08,410.83 538.90,415.00 C539.72,419.17 540.83,425.83 541.50,430.00 C542.17,434.17 542.38,435.83 542.90,440.00 C543.42,444.17 544.02,450.00 544.60,455.00 C545.18,460.00 545.77,465.00 546.40,470.00 C547.03,475.00 547.78,480.00 548.40,485.00 C549.02,490.00 549.57,495.83 550.10,500.00 C550.63,504.17 551.02,506.67 551.60,510.00 C552.18,513.33 552.98,517.25 553.60,520.00 C554.22,522.75 554.63,524.73 555.30,526.50 C555.97,528.27 556.88,530.52 557.60,530.60 C558.32,530.68 558.92,528.77 559.60,527.00 C560.28,525.23 560.93,522.83 561.70,520.00 C562.47,517.17 563.38,513.33 564.20,510.00 C565.02,506.67 565.38,504.17 566.60,500.00 C567.82,495.83 570.02,490.00 571.50,485.00 C572.98,480.00 574.17,474.25 575.50,470.00 C576.83,465.75 578.08,462.75 579.50,459.50 C580.92,456.25 582.40,453.22 584.00,450.50 C585.60,447.78 587.50,445.50 589.10,443.20 C590.70,440.90 591.92,438.72 593.60,436.70 C595.28,434.68 597.27,432.78 599.20,431.10 C601.13,429.42 603.20,427.85 605.20,426.60 C607.20,425.35 607.87,424.87 611.20,423.60 C614.53,422.33 619.95,420.30 625.20,419.00 C630.45,417.70 636.85,416.58 642.70,415.80 C648.55,415.02 651.50,414.60 660.30,414.30 C669.10,414.00 683.78,413.87 695.50,414.00 C707.22,414.13 720.42,414.73 730.60,415.10 C740.78,415.47 752.27,416.02 756.60,416.20" class="rd"/>
</g>
<rect x="375.50" y="443.20" width="151.10" height="102.00" fill="white" stroke="#505050" stroke-width="1" shape-rendering="crispEdges"/>
<path d="M376.31,518.97L378.08,518.34M379.91,518.46L381.94,517.89M383.80,516.80L386.18,516.55M388.55,516.96L390.31,516.78M392.00,515.21L394.00,514.53M396.27,514.41L398.53,513.85M400.95,513.86L403.50,513.38M404.43,512.09L406.43,511.73M409.30,511.76L411.29,511.58M414.00,511.79L416.51,511.65M417.81,511.67L420.01,511.19M421.25,510.45L423.14,509.64M425.55,508.22L427.70,507.18M429.74,506.01L431.81,504.89M434.09,504.23L435.91,503.19M437.86,501.37L439.72,500.23M441.40,499.04L443.23,497.81M445.26,497.20L446.71,496.03M448.87,493.22L450.85,491.64M453.06,491.09L454.81,490.08M456.93,488.90L459.19,487.73M460.57,486.89L462.75,485.56M464.30,484.61L465.72,483.78M468.75,481.55L470.30,480.84M472.80,479.56L474.35,478.73M476.41,478.14L477.66,476.97M480.24,474.67L481.95,473.26M483.06,471.43L484.76,470.69M487.42,469.55L488.81,468.50M491.66,467.42L493.68,466.72M495.11,466.52L496.85,465.98M499.89,464.21L501.46,463.69M503.74,463.40L506.19,462.54M507.60,461.23L509.91,460.40M511.16,459.84L513.00,459.10M515.52,458.89L517.86,457.88M519.95,456.88L521.95,456.03M524.12,454.44L525.70,453.66" class="bki"/>
<path d="M375.50,519.70 C377.35,519.13 381.98,517.63 386.60,516.30 C391.22,514.97 397.67,513.35 403.20,511.70 C408.73,510.05 414.27,508.53 419.80,506.40 C425.33,504.27 430.87,501.67 436.40,498.90 C441.93,496.13 447.47,492.70 453.00,489.80 C458.53,486.90 464.07,484.55 469.60,481.50 C475.13,478.45 480.67,474.55 486.20,471.50 C491.73,468.45 497.27,465.68 502.80,463.20 C508.33,460.72 515.43,458.25 519.40,456.60 C523.37,454.95 525.40,453.85 526.60,453.30" class="rd"/>
<path d="M375.50,443.20 L453.80,389.60" class="cn"/>
<path d="M497.80,378.00 L526.60,443.20" class="cn"/>
<path d="M364.10,574.40 h32.5" stroke="#000" stroke-width="3" stroke-dasharray="8.3 3.4"/>
<path d="M364.10,601.25 h32.5" stroke="#ff0000" stroke-width="3"/>
<text x="403.00" y="580.60" class="lg" style="font-size:22.3px">Full SPR curve</text>
<text x="403.00" y="608.50" class="lg" style="font-size:22.3px">Sigmoid-asymmetric <tspan dx="2.3">fitting curve</tspan></text>
</svg>
</body></html>
